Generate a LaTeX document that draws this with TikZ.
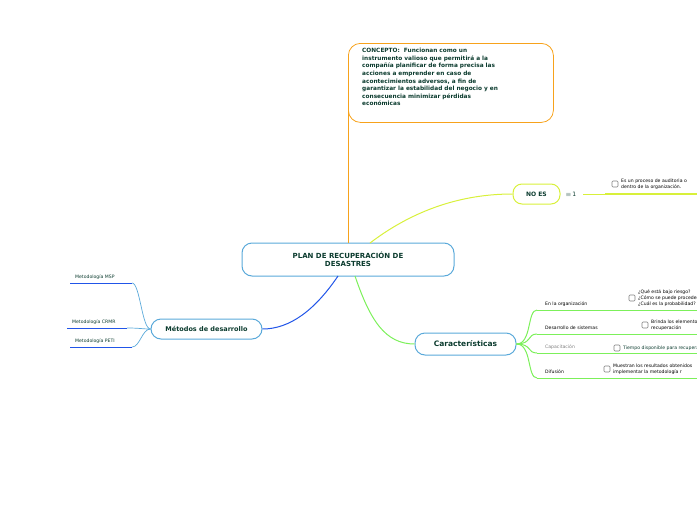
\documentclass[tikz,border=0pt]{standalone}
\usepackage{fontspec}
\setmainfont{DejaVu Sans}
\definecolor{dg}{HTML}{0B3B2E}
\definecolor{org}{HTML}{F7A21B}
\definecolor{bl}{HTML}{5AA9DA}
\definecolor{yg}{HTML}{D8F03A}
\definecolor{gr}{HTML}{7CF05A}
\definecolor{db}{HTML}{2155E8}
\tikzset{
 main/.style={draw=bl,line width=1pt,rounded corners=10pt,fill=white,align=center,font=\bfseries\fontsize{7}{8.5}\selectfont,text=dg,inner sep=0pt},
 leaf/.style={font=\fontsize{4.6}{6}\selectfont,anchor=west,inner sep=0pt},
 chk/.style={draw=gray,rounded corners=1pt,minimum size=6pt,inner sep=0pt,line width=0.6pt},
 desc/.style={font=\fontsize{4.6}{6}\selectfont,anchor=west,align=left,inner sep=0pt}
}
\begin{document}
\begin{tikzpicture}[x=1pt,y=-1pt]
\useasboundingbox (0,0) rectangle (697,520);
% concept
\node[draw=org,line width=0.8pt,rounded corners=12pt,minimum width=205pt,minimum height=79pt,anchor=north west,inner sep=0pt] (concept) at (348,43) {};
\node[anchor=north west,align=left,font=\bfseries\fontsize{5.8}{7.6}\selectfont,text=dg,inner sep=0pt] (ctext) at (362,48) {CONCEPTO:\ \ Funcionan como un\\instrumento valioso que permitirá a la\\compañía planificar de forma precisa las\\acciones a emprender en caso de\\acontecimientos adversos, a fin de\\garantizar la estabilidad del negocio y en\\consecuencia minimizar pérdidas\\económicas};
% central
\node[main,minimum width=212pt,minimum height=33pt] (c) at (348,259.5) {PLAN DE RECUPERACIÓN DE\\DESASTRES};
\coordinate (ctop) at (348,95);
\draw[org,line width=1pt] (ctop) -- (c.north);
% NO ES
\node[draw=yg,line width=1pt,rounded corners=9pt,minimum width=47pt,minimum height=20pt,font=\bfseries\fontsize{6}{7}\selectfont,text=dg,inner sep=0pt] (noes) at (536.5,194) {NO ES};
\draw[yg,line width=1pt] (370,243) .. controls (420,205) and (470,194) .. (noes.west);
\node[font=\fontsize{6}{7}\selectfont,text=dg,inner sep=0pt] (num) at (571,194) {$\equiv$\,1};
\coordinate (ne1) at (583,194.5);
\coordinate (ne2) at (697,194.5);
\draw[yg,line width=0.8pt] (ne1) -- (ne2);
\coordinate (ne3) at (605,194); \coordinate (ne4) at (697,194);
\draw[yg,line width=1.5pt] (ne3) -- (ne4);
\node[chk] (k0) at (615,184) {};
\node[desc] (d0) at (621,184) {Es un proceso de auditoria o\\dentro de la organización.};
% Caracteristicas
\node[main,minimum width=101pt,minimum height=22pt,font=\bfseries\fontsize{7.5}{9}\selectfont,text=dg] (car) at (465.5,344) {Características};
\draw[gr,line width=1pt] (355,276) .. controls (370,320) and (385,344) .. (car.west);
\foreach \n/\y/\t/\col in {a/310/En la organización/black, b/334/Desarrollo de sistemas/black, c/353/Capacitación/gray, d/378/Difusión/black}{
  \coordinate (\n0) at (537,\y);
  \coordinate (\n1) at (697,\y);
  \draw[gr,line width=1pt] (car.east) .. controls (532,344) and (527,\y) .. (\n0);
  \draw[gr,line width=1pt] (\n0) -- (\n1);
  \node[leaf,text=\col] (\n t) at (545,\y-6) {\t};
}
\node[chk] (ka) at (632,298) {};
\node[desc] (da) at (638,298) {¿Qué está bajo riesgo?\\¿Cómo se puede proceder?\\¿Cuál es la probabilidad?};
\node[chk] (kb) at (645,325) {};
\node[desc] (db) at (651,325) {Brinda los elementos\\recuperación};
\node[chk] (kc) at (617,348) {};
\node[desc,text=dg] (dc) at (623,348) {Tiempo disponible para recuperación};
\node[chk] (kd) at (607,369) {};
\node[desc] (dd) at (613,369) {Muestran los resultados obtenidos\\implementar la metodología r};
% Metodos
\node[main,minimum width=111pt,minimum height=20pt,font=\bfseries\fontsize{6.5}{8}\selectfont,text=dg] (met) at (206.5,329) {Métodos de desarrollo};
\draw[db,line width=1pt] (338,276) .. controls (315,310) and (290,329) .. (met.east);
\foreach \n/\y/\xa/\xb/\t in {p/283/70/132/Metodología MSP, q/328/67/127/Metodología CRMR, r/347/70/132/Metodología PETI}{
  \coordinate (\n0) at (\xb,\y);
  \coordinate (\n1) at (\xa,\y);
  \draw[bl,line width=0.7pt] (met.west) .. controls (142,329) and (140,\y) .. (\n0);
  \draw[db,line width=1pt] (\n0) -- (\n1);
  \node[leaf,text=dg] (\n t) at (\xa+5,\y-6) {\t};
}
\end{tikzpicture}
\end{document}
